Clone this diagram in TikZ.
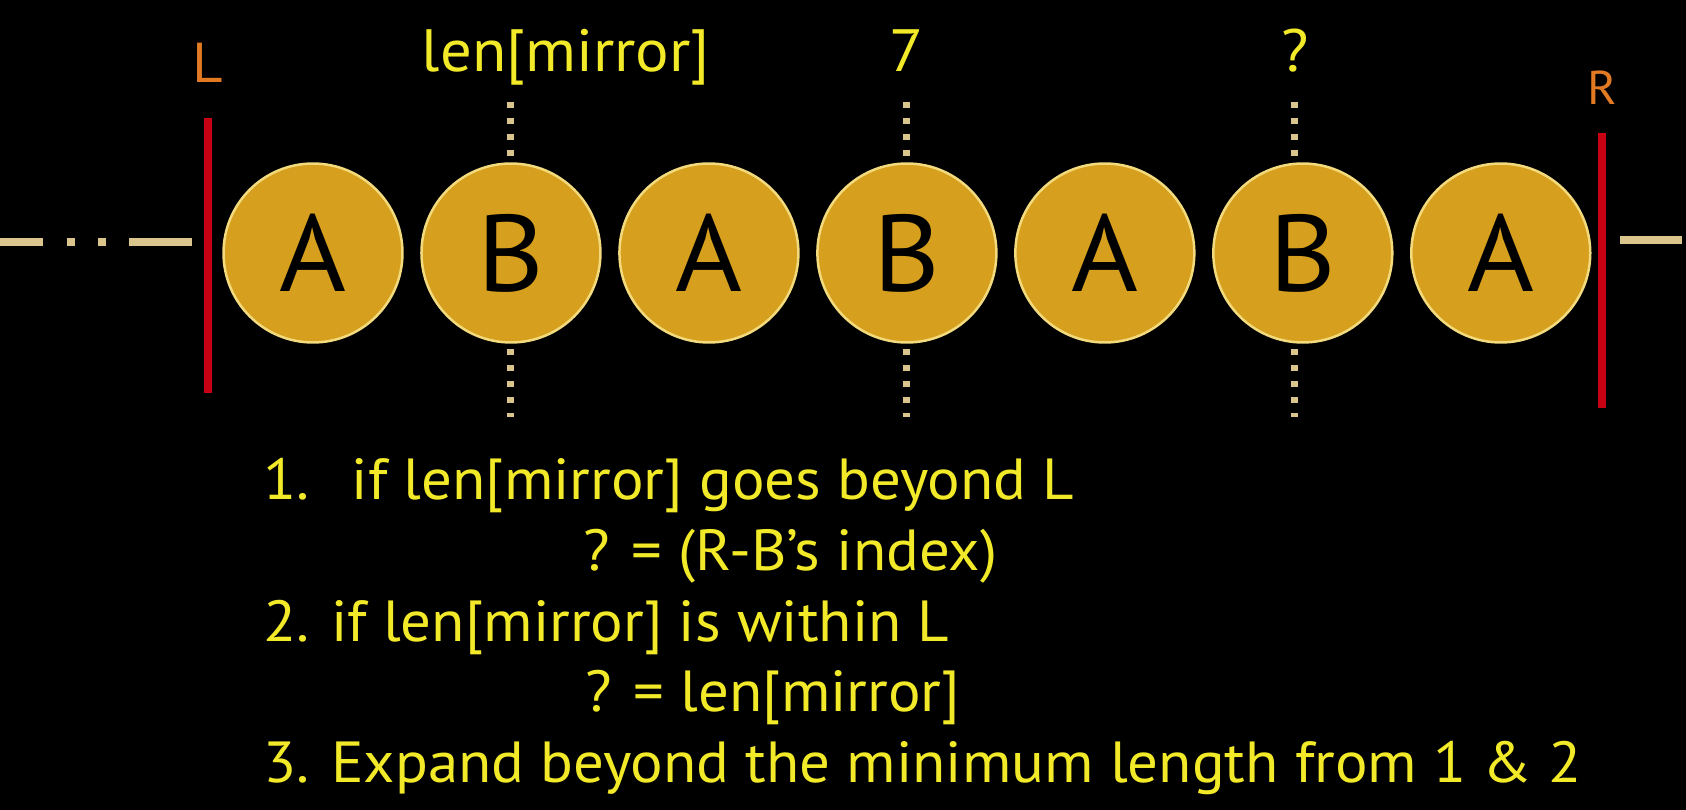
\documentclass[tikz,border=0pt]{standalone}
\usepackage{fontspec}
\setmainfont{PT Sans}[FakeStretch=1.05]
\usepackage{tikz}
\usetikzlibrary{positioning}
\definecolor{ballfill}{RGB}{214,160,30}
\definecolor{ballrim}{RGB}{242,218,125}
\definecolor{barred}{RGB}{200,0,20}
\definecolor{bndorange}{RGB}{226,122,36}
\definecolor{noteyellow}{RGB}{242,234,40}
\definecolor{guidetan}{RGB}{218,198,140}

\begin{document}
\begin{tikzpicture}[
    x=0.02cm, y=-0.02cm,
    node distance=0.38cm,
    ball/.style={circle, draw=ballrim, line width=0.05cm, fill=ballfill, minimum size=3.58cm, inner sep=0pt, outer sep=0pt, text=black, font=\fontsize{62}{62}\selectfont},
    bar/.style={rectangle, fill=barred, minimum width=0.16cm, minimum height=5.5cm, inner sep=0pt, outer sep=0pt},
    bnd/.style={text=bndorange, inner sep=0pt},
    tag/.style={text=noteyellow, inner sep=0pt, text depth=0.24cm, font=\fontsize{34}{34}\selectfont},
    guide/.style={draw=guidetan, line width=0.14cm, dash pattern=on 3.4pt off 5.67pt},
    ext/.style={draw=guidetan, line width=0.16cm},
    note/.style={text=noteyellow, anchor=base west, inner sep=0pt, font=\fontsize{33}{33}\selectfont}
]
    \useasboundingbox (0,0) rectangle (1686,810);
    \fill[black] (0,0) rectangle (1686,810);

    % the string between the two bounds
    \node[ball] (a1) at (313,253) {A};
    \node[ball, right=of a1] (b1) {B};
    \node[ball, right=of b1] (a2) {A};
    \node[ball, right=of a2] (b2) {B};
    \node[ball, right=of b2] (a3) {A};
    \node[ball, right=of a3] (b3) {B};
    \node[ball, right=of b3] (a4) {A};

    % bounds L and R
    \node[bar] (lbar) at (208,255.5) {};
    \node[bar] (rbar) at (1602,270.5) {};
    \node[bnd, font=\fontsize{32}{32}\selectfont, above=0.7cm of lbar] (lname) {L};
    \node[bnd, font=\fontsize{27}{27}\selectfont, above=0.56cm of rbar] (rname) {R};

    \coordinate (lfar) at (0,242);
    \coordinate (rfar) at (1682,240);
    \draw[ext, dash pattern=on 24.4pt off 13.6pt on 4.5pt off 13pt on 5.1pt off 13pt on 40pt, shorten >=0.24cm] (lfar) -- (lfar -| lbar.west);
    \draw[ext, shorten <=0.28cm] (rbar.east |- rfar) -- (rfar);

    % markers over the B's
    \node[tag, above=1.6cm of b1, xshift=1.1cm] (mir) {len[mirror]};
    \node[tag, above=1.6cm of b2] (ctr) {7};
    \node[tag, above=1.6cm of b3, xshift=-0.16cm] (unk) {?};
    \coordinate[below=1.5cm of b1] (b1foot);
    \coordinate[below=1.5cm of b2] (b2foot);
    \coordinate[below=1.5cm of unk |- b3.south] (b3foot);

    \draw[guide, shorten <=0.16cm, shorten >=0.3cm] (b1) -- (b1 |- mir.south);
    \draw[guide, shorten <=0.16cm, shorten >=0.3cm] (b2) -- (ctr);
    \draw[guide, shorten <=0.16cm, shorten >=0.3cm] (unk |- b3.north) -- (unk);
    \draw[guide, shorten <=0.14cm] (b1) -- (b1foot);
    \draw[guide, shorten <=0.14cm] (b2) -- (b2foot);
    \draw[guide, shorten <=0.14cm] (unk |- b3.south) -- (b3foot);

    % the rules
    \node[note] (s1) at (263,500) {1.\ \ \,if len[mirror] goes beyond L};
    \node[note] (s2) at (583,570) {? = (R-B’s index)};
    \node[note] (s3) at (263,641) {2. if len[mirror] is within L};
    \node[note] (s4) at (585,711) {? = len[mirror]};
    \node[note] (s5) at (263,782) {3. Expand beyond the minimum length from 1 \& 2};
\end{tikzpicture}
\end{document}
